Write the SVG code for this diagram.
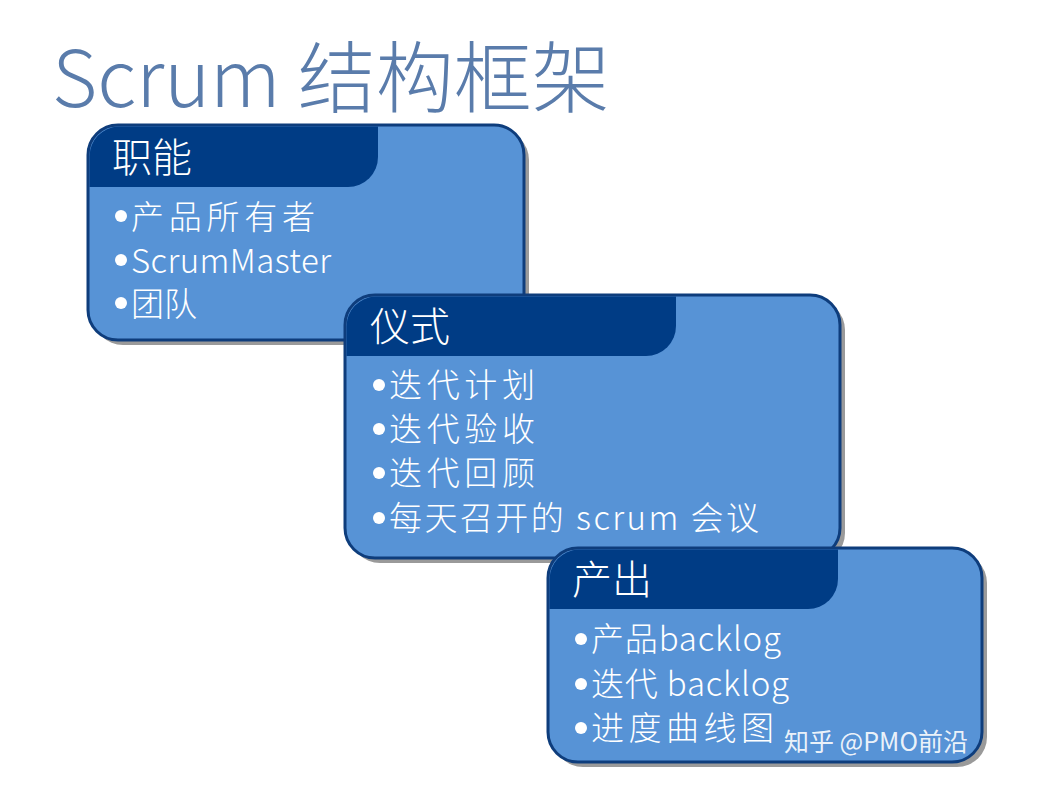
<svg xmlns="http://www.w3.org/2000/svg" width="1040" height="785" viewBox="0 0 1040 785">
<style>
.box{fill:#5793d6;stroke:#0e3d7c;stroke-width:3}
.sh{fill:#9a9a9a}
.hd{fill:#003c85}
.t{font-family:"Noto Sans CJK SC","Liberation Sans",sans-serif;fill:#fff;font-weight:300}
.h{font-size:40px}
.b{font-size:33px}
.dot{fill:#fff}
</style>
<rect width="1040" height="785" fill="#fff"/>
<text x="52" y="107" font-family="'Noto Sans CJK SC',sans-serif" font-weight="300" font-size="78" fill="#5a7cab">Scrum 结构框架</text>
<g id="node1">
<rect class="sh" x="93" y="130" width="436" height="215" rx="30"/>
<rect class="box" x="88" y="125" width="436" height="215" rx="30"/>
<path class="hd" d="M118,126.5 H378 V157 A30,30 0 0 1 348,187 H89.5 V156 A30,30 0 0 1 118,126.5Z"/>
<text class="t h" x="112" y="172">职能</text>
<circle class="dot" cx="121" cy="216" r="6"/><circle class="dot" cx="121" cy="260" r="6"/><circle class="dot" cx="121" cy="303" r="6"/>
<text class="t b" x="131" y="229" textLength="184">产品所有者</text>
<text class="t b" x="131" y="273" textLength="200">ScrumMaster</text>
<text class="t b" x="131" y="316">团队</text>
</g>
<g id="node2">
<rect class="sh" x="350" y="300" width="495" height="263" rx="30"/>
<rect class="box" x="345" y="295" width="495" height="263" rx="30"/>
<path class="hd" d="M375,296.5 H676 V326 A30,30 0 0 1 646,356 H346.5 V326 A30,30 0 0 1 375,296.5Z"/>
<text class="t h" x="370" y="341">仪式</text>
<circle class="dot" cx="379" cy="385" r="6"/><circle class="dot" cx="379" cy="429" r="6"/><circle class="dot" cx="379" cy="473" r="6"/><circle class="dot" cx="379" cy="518" r="6"/>
<text class="t b" x="389" y="397" textLength="146">迭代计划</text>
<text class="t b" x="389" y="441" textLength="146">迭代验收</text>
<text class="t b" x="389" y="485" textLength="146">迭代回顾</text>
<text class="t b" x="389" y="530" textLength="370">每天召开的 scrum 会议</text>
</g>
<g id="node3">
<rect class="sh" x="553" y="553" width="434" height="214" rx="30"/>
<rect class="box" x="548" y="548" width="434" height="214" rx="30"/>
<path class="hd" d="M578,549.5 H838 V579 A30,30 0 0 1 808,609 H549.5 V579 A30,30 0 0 1 578,549.5Z"/>
<text class="t h" x="572" y="594">产出</text>
<circle class="dot" cx="581" cy="639" r="6"/><circle class="dot" cx="581" cy="684" r="6"/><circle class="dot" cx="581" cy="728" r="6"/>
<text class="t b" x="591" y="651" textLength="190">产品backlog</text>
<text class="t b" x="591" y="696" textLength="198">迭代 backlog</text>
<text class="t b" x="591" y="740" textLength="183">进度曲线图</text>
<text x="784" y="751" font-family="'Noto Sans CJK SC',sans-serif" font-size="25" fill="#fff" fill-opacity="0.9">知乎 @PMO前沿</text>
</g>
<g id="connectors"/>
</svg>
